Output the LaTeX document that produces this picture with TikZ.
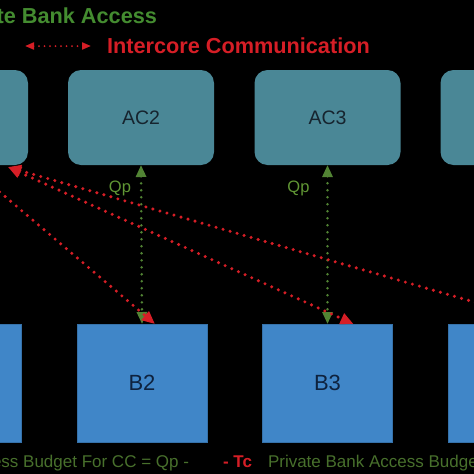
\documentclass[tikz,border=0pt]{standalone}
\usepackage{fontspec}
\setmainfont{Liberation Sans}
\usetikzlibrary{arrows.meta}

\definecolor{acteal}{RGB}{74,135,150}
\definecolor{bankblue}{RGB}{64,134,200}
\definecolor{privgreen}{RGB}{68,140,48}
\definecolor{budgetgreen}{RGB}{72,112,44}
\definecolor{qpgreen}{RGB}{96,150,52}
\definecolor{linkgreen}{RGB}{82,132,52}
\definecolor{icred}{RGB}{214,30,38}
\definecolor{coretext}{RGB}{22,36,46}
\definecolor{banktext}{RGB}{14,34,62}

\tikzset{
  corebox/.style={rectangle, rounded corners=13pt, fill=acteal, minimum width=146pt,
    minimum height=95pt, text=coretext, font=\fontsize{19.5}{20}\selectfont},
  bankbox/.style={rectangle, fill=bankblue, draw=bankblue!85!black, line width=0.6pt,
    minimum width=130pt, minimum height=118pt, text=banktext, font=\fontsize{22}{22}\selectfont},
  qplink/.style={linkgreen, line width=2.8pt, dash pattern=on 0pt off 7pt, line cap=round,
    {Triangle[length=12pt,width=10pt]}-{Triangle[length=12pt,width=10pt]}},
  iclink/.style={icred, line width=3.4pt, dash pattern=on 0pt off 7.3pt, line cap=round,
    {Triangle[length=13pt,width=11pt]}-{Triangle[length=13pt,width=11pt]}},
  iclegend/.style={icred, line width=2pt, dash pattern=on 0pt off 5.5pt, line cap=round,
    {Triangle[length=9pt,width=7pt]}-{Triangle[length=9pt,width=7pt]}},
  qplabel/.style={text=qpgreen, font=\fontsize{16.5}{17}\selectfont},
  budgettext/.style={text=budgetgreen, font=\fontsize{17}{17}\selectfont},
}

\begin{document}
\begin{tikzpicture}[x=1pt, y=-1pt]
  \tikzstyle{every node}+=[inner sep=0pt, outer sep=0pt]
  \useasboundingbox (0,0) rectangle (474,474);
  \fill[black] (0,0) rectangle (474,474);
  \clip (0,0) rectangle (474,474);

  % legend
  \node[anchor=base east, text=privgreen, font=\fontsize{21.7}{22}\selectfont\bfseries] (privleg) at (157,23) {te Bank Access};
  \coordinate (iclegl) at (25,46);
  \coordinate (iclegr) at (91,46);
  \draw[iclegend] (iclegl) -- (iclegr);
  \node[anchor=base west, text=icred, font=\fontsize{21.7}{22}\selectfont\bfseries] (icleg) at (107,53) {Intercore Communication};

  % cores
  \node[corebox] (ac1) at (-45,117.5) {};
  \node[corebox] (ac2) at (141,117.5) {AC2};
  \node[corebox] (ac3) at (327.5,117.5) {AC3};
  \node[corebox] (ac4) at (513.5,117.5) {};

  % private banks
  \node[bankbox] (b1) at (-44,383) {};
  \node[bankbox] (b2) at (142,383) {B2};
  \node[bankbox] (b3) at (327.5,383) {B3};
  \node[bankbox] (b4) at (513,383) {};

  % private bank access
  \foreach \i/\dx in {2/-21,3/-29,4/-29} {
    \draw[qplink] (ac\i.south) -- (b\i.north);
    \node[qplabel, anchor=base] (qp\i) at ([xshift=\dx pt, yshift=-27pt]ac\i.south) {Qp};
  }

  % intercore communication
  \coordinate (ic1) at ([xshift=-20pt, yshift=-2pt]ac1.south east);
  \draw[iclink] (ic1) -- ([xshift=37pt]b4.north);
  \draw[iclink] (ic1) -- ([xshift=26pt]b3.north);
  \draw[iclink] ([xshift=13pt]ac1.south) -- ([xshift=13pt]b2.north);

  % budgets
  \node[budgettext, anchor=base east] (budcc) at (189,467) {ess Budget For CC = Qp -};
  \node[anchor=base west, text=icred, font=\fontsize{17}{17}\selectfont\bfseries] (tc) at (223,467) {- Tc};
  \node[budgettext, anchor=base west] (budpb) at (268,467) {Private Bank Access Budge};
\end{tikzpicture}
\end{document}
